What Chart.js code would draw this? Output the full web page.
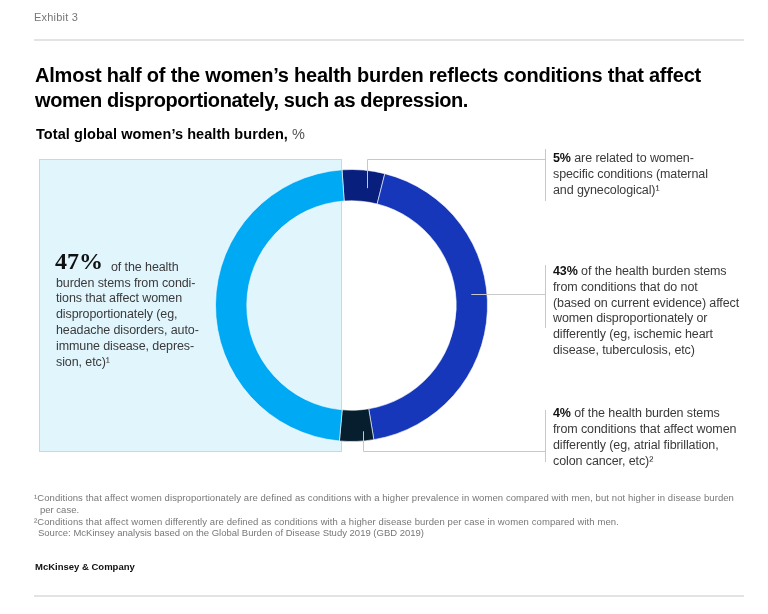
<!DOCTYPE html>
<html>
<head>
<meta charset="utf-8">
<script src="https://cdn.jsdelivr.net/npm/chart.js@4.4.1/dist/chart.umd.min.js"></script>
<style>
  body { margin: 0; background: #fff; }
  #page { position: relative; width: 768px; height: 614px; overflow: hidden;
          font-family: "Liberation Sans", Arial, sans-serif; color: #333; }
  #chart { position: absolute; left: 0; top: 0; z-index: 0; }
  .t { position: absolute; white-space: nowrap; z-index: 1; }
  .rule { position: absolute; left: 34px; width: 710px; height: 2px; background: #e3e3e3; }
  .note { font-size: 12.5px; line-height: 16px; color: #3a3a3a; letter-spacing: -0.1px; }
  .note b { color: #111; }
  .foot { font-size: 9.5px; line-height: 12px; color: #777; }
</style>
</head>
<body>
<div id="page">
  <canvas id="chart" width="768" height="614"></canvas>

  <div class="t" style="left:34px; top:10px; font-size:11px; line-height:14px; color:#777" data-w="44">Exhibit 3</div>
  <div class="rule" style="top:39px"></div>

  <div class="t" style="left:35px; top:63px; font-size:20px; line-height:25px; font-weight:bold; color:#000" data-w="666">Almost half of the women’s health burden reflects conditions that affect</div>
  <div class="t" style="left:35px; top:88px; font-size:20px; line-height:25px; font-weight:bold; color:#000" data-w="433">women disproportionately, such as depression.</div>

  <div class="t" style="left:36px; top:125px; font-size:14.5px; line-height:18px; color:#000" data-w="269"><b>Total global women’s health burden,</b> <span style="color:#555">%</span></div>

  <!-- left callout -->
  <div class="t" style="left:55px; top:249px; font-family:'Liberation Serif', serif; font-weight:bold; font-size:24px; line-height:25px; color:#111"><span class="pct" data-i="3"></span></div>
  <div class="t note" style="left:111px; top:259px">of the health</div>
  <div class="t note" style="left:56px; top:275px">burden stems from condi-</div>
  <div class="t note" style="left:56px; top:290px">tions that affect women</div>
  <div class="t note" style="left:56px; top:306px">disproportionately (eg,</div>
  <div class="t note" style="left:56px; top:322px">headache disorders, auto-</div>
  <div class="t note" style="left:56px; top:338px">immune disease, depres-</div>
  <div class="t note" style="left:56px; top:354px">sion, etc)¹</div>

  <!-- right callouts -->
  <div class="t note" style="left:553px; top:150px"><b class="pct" data-i="0"></b> are related to women-</div>
  <div class="t note" style="left:553px; top:166px">specific conditions (maternal</div>
  <div class="t note" style="left:553px; top:182px">and gynecological)¹</div>

  <div class="t note" style="left:553px; top:263px"><b class="pct" data-i="1"></b> of the health burden stems</div>
  <div class="t note" style="left:553px; top:279px">from conditions that do not</div>
  <div class="t note" style="left:553px; top:295px">(based on current evidence) affect</div>
  <div class="t note" style="left:553px; top:310px">women disproportionately or</div>
  <div class="t note" style="left:553px; top:326px">differently (eg, ischemic heart</div>
  <div class="t note" style="left:553px; top:342px">disease, tuberculosis, etc)</div>

  <div class="t note" style="left:553px; top:405px"><b class="pct" data-i="2"></b> of the health burden stems</div>
  <div class="t note" style="left:553px; top:421px">from conditions that affect women</div>
  <div class="t note" style="left:553px; top:437px">differently (eg, atrial fibrillation,</div>
  <div class="t note" style="left:553px; top:453px">colon cancer, etc)²</div>

  <!-- footnotes -->
  <div class="t foot" style="left:34px; top:492px" data-w="700">¹Conditions that affect women disproportionately are defined as conditions with a higher prevalence in women compared with men, but not higher in disease burden</div>
  <div class="t foot" style="left:40px; top:504px">per case.</div>
  <div class="t foot" style="left:34px; top:516px" data-w="585">²Conditions that affect women differently are defined as conditions with a higher disease burden per case in women compared with men.</div>
  <div class="t foot" style="left:38px; top:527px" data-w="386">Source: McKinsey analysis based on the Global Burden of Disease Study 2019 (GBD 2019)</div>

  <div class="t" style="left:35px; top:560px; font-size:9.5px; line-height:14px; font-weight:bold; color:#111">McKinsey &amp; Company</div>
  <div class="rule" style="top:595px"></div>
</div>

<script>
// shares of total global women's health burden, % (clockwise from the top)
var categories = [
    'Women-specific conditions',
    'Do not affect women disproportionately or differently',
    'Affect women differently',
    'Affect women disproportionately'
];
var shares = [5, 43, 4, 47];
var segmentColors = ['#081f7e', '#1637b9', '#061e2d', '#00a9f4'];

// percent labels in the callouts come from the data
document.querySelectorAll('.pct').forEach(function(el) {
    el.textContent = shares[+el.dataset.i] + '%';
});

// squeeze / stretch a few long lines to the width they have in the exhibit
document.querySelectorAll('[data-w]').forEach(function(el) {
    var target = +el.dataset.w;
    var natural = el.getBoundingClientRect().width;
    var n = el.textContent.length;
    el.style.letterSpacing = ((target - natural) / n).toFixed(3) + 'px';
});

// light blue panel behind the 47% slice, and the leader lines to the notes
var calloutPlugin = {
    id: 'callouts',
    beforeDatasetsDraw: function(chart) {
        var ctx = chart.ctx;
        ctx.save();
        ctx.fillStyle = '#e1f5fd';
        ctx.fillRect(39.5, 159.5, 302, 292);
        ctx.strokeStyle = '#cfd5d8';
        ctx.lineWidth = 1;
        ctx.strokeRect(39.5, 159.5, 302, 292);
        ctx.restore();
    },
    afterDatasetsDraw: function(chart) {
        var ctx = chart.ctx;
        var arcs = chart.getDatasetMeta(0).data;
        function anchor(i, t, dr) {
            var a = arcs[i];
            var ang = a.startAngle + t * (a.endAngle - a.startAngle);
            var r = (a.innerRadius + a.outerRadius) / 2 + (dr || 0);
            return { x: a.x + r * Math.cos(ang), y: a.y + r * Math.sin(ang) };
        }
        ctx.save();
        ctx.strokeStyle = '#c8c8c8';
        ctx.lineWidth = 1;
        ctx.beginPath();
        // top slice: up, then right
        var p = anchor(0, 0.64, -2);
        var x0 = Math.round(p.x) + 0.5;
        ctx.moveTo(x0, p.y); ctx.lineTo(x0, 159.5); ctx.lineTo(545.5, 159.5);
        // right slice: straight across
        p = anchor(1, 0.45, 0);
        var y1 = Math.round(p.y) + 0.5;
        ctx.moveTo(p.x, y1); ctx.lineTo(545.5, y1);
        // bottom slice: down, then right
        p = anchor(2, 0.28, 6);
        x0 = Math.round(p.x) + 0.5;
        ctx.moveTo(x0, p.y); ctx.lineTo(x0, 451.5); ctx.lineTo(545.5, 451.5);
        // separators beside the notes
        ctx.moveTo(545.5, 149); ctx.lineTo(545.5, 201);
        ctx.moveTo(545.5, 265); ctx.lineTo(545.5, 328);
        ctx.moveTo(545.5, 410); ctx.lineTo(545.5, 462);
        ctx.stroke();
        ctx.restore();
    }
};

var config = {
    type: 'doughnut',
    data: {
        labels: categories,
        datasets: [{
            data: shares,
            backgroundColor: segmentColors,
            borderColor: 'rgba(255,255,255,0.6)',
            borderWidth: 1,
            radius: 136,
            cutout: '77%'
        }]
    },
    options: {
        responsive: false,
        animation: false,
        rotation: -4,
        layout: { padding: { left: 211, right: 276, top: 165, bottom: 168 } },
        plugins: {
            legend: { display: false },
            tooltip: { enabled: false }
        }
    },
    plugins: [calloutPlugin]
};

window.chart = new Chart(document.getElementById('chart').getContext('2d'), config);
</script>
</body>
</html>
